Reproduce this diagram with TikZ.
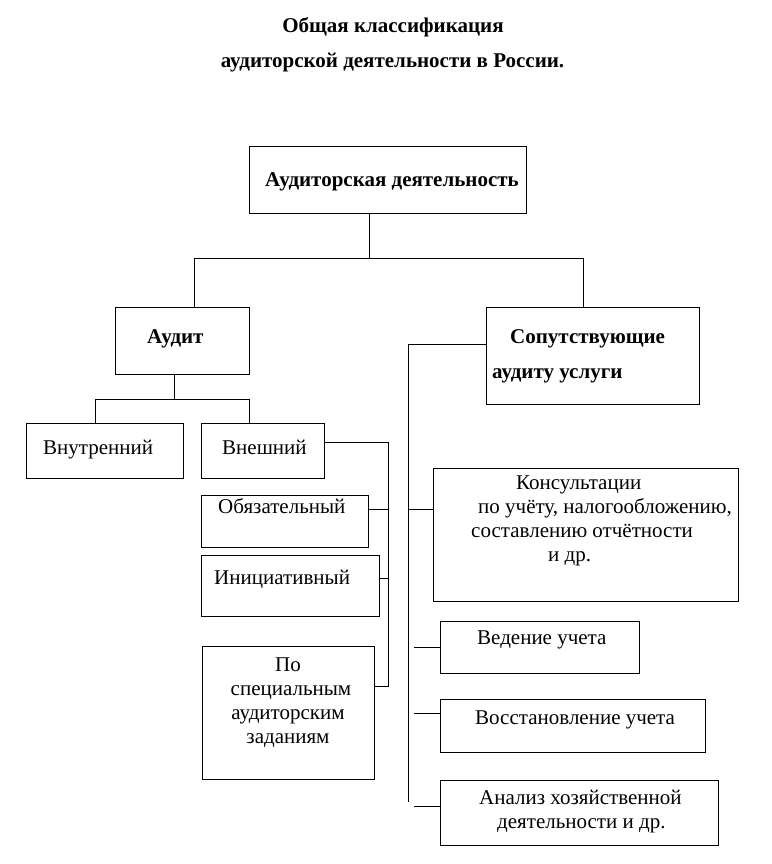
\documentclass[tikz,border=0pt]{standalone}
\usepackage{fontspec}
\setmainfont{Liberation Serif}
\tikzset{
  box/.style={draw, line width=1pt, inner sep=0pt, outer sep=0pt, rectangle},
  ln/.style={line width=1pt},
  txt/.style={anchor=base west, inner sep=0pt, font=\fontsize{21}{24}\selectfont},
  btxt/.style={anchor=base west, inner sep=0pt, font=\fontsize{21}{24}\selectfont\bfseries},
  ttl/.style={anchor=base, inner sep=0pt, font=\fontsize{21}{24}\selectfont\bfseries}
}
\begin{document}
\begin{tikzpicture}[x=1pt,y=-1pt]
\useasboundingbox (0,0) rectangle (771,864);
% title
\node[ttl] (t1) at (393,33) {Общая классификация};
\node[ttl] (t2) at (392.5,68) {аудиторской деятельности в России.};
% boxes
\node[box, minimum width=277, minimum height=67] (top) at (387.5,179.5) {};
\node[box, minimum width=134, minimum height=67] (audit) at (182,340.5) {};
\node[box, minimum width=213, minimum height=97] (sop) at (592.5,355.5) {};
\node[box, minimum width=157, minimum height=55] (vnutr) at (104.5,450.5) {};
\node[box, minimum width=123, minimum height=55] (vnesh) at (262.5,450.5) {};
\node[box, minimum width=167, minimum height=52] (obyaz) at (284.5,521) {};
\node[box, minimum width=178, minimum height=61] (init) at (290,585.5) {};
\node[box, minimum width=172, minimum height=133] (spec) at (288,712.5) {};
\node[box, minimum width=305, minimum height=133] (kons) at (585.5,534.5) {};
\node[box, minimum width=199, minimum height=52] (ved) at (539.5,647) {};
\node[box, minimum width=265, minimum height=53] (vosst) at (572.5,725.5) {};
\node[box, minimum width=278, minimum height=65] (anal) at (579,812.5) {};
% texts
\node[btxt] (ttop) at (265,186) {Аудиторская деятельность};
\node[btxt] (taudit) at (147,343) {Аудит};
\node[btxt] (tsop1) at (510,343) {Сопутствующие};
\node[btxt] (tsop2) at (492,378) {аудиту услуги};
\node[txt] (tvnutr) at (43,454) {Внутренний};
\node[txt] (tvnesh) at (222,454) {Внешний};
\node[txt] (tobyaz) at (218,513) {Обязательный};
\node[txt] (tinit) at (214,584) {Инициативный};
\node[txt, anchor=base] (tspec1) at (288,671) {По};
\node[txt, anchor=base] (tspec2) at (291,695) {специальным};
\node[txt, anchor=base] (tspec3) at (288,719) {аудиторским};
\node[txt, anchor=base] (tspec4) at (288,743) {заданиям};
\node[txt] (tkons1) at (516,489) {Консультации};
\node[txt] (tkons2) at (478,513) {по учёту, налогообложению,};
\node[txt] (tkons3) at (471,537) {составлению отчётности};
\node[txt] (tkons4) at (548,561) {и др.};
\node[txt] (tved) at (477,644) {Ведение учета};
\node[txt] (tvosst) at (475,724) {Восстановление учета};
\node[txt] (tanal1) at (479,804) {Анализ хозяйственной};
\node[txt] (tanal2) at (497,828) {деятельности и др.};
% junction coordinates
\coordinate (j1) at (369,258);
\coordinate (jl) at (194,258);
\coordinate (jr) at (583,258);
\coordinate (j2) at (174,399);
\coordinate (j2l) at (95,399);
\coordinate (j2r) at (249,399);
\coordinate (b1) at (388.5,442);
\coordinate (b2) at (388.5,686);
\coordinate (bob) at (388.5,509);
\coordinate (bin) at (388.5,578);
\coordinate (r1) at (408,344);
\coordinate (r2) at (408,802);
\coordinate (rk) at (408,509);
\coordinate (s1) at (414,647);
\coordinate (s2) at (414,713);
\coordinate (s3) at (414,806);
% connectors
\draw[ln] (j1 |- top.south) -- (j1);
\draw[ln] (jl |- audit.north) -- (jl) -- (jr) -- (jr |- sop.north);
\draw[ln] (j2 |- audit.south) -- (j2);
\draw[ln] (j2l |- vnutr.north) -- (j2l) -- (j2r) -- (j2r |- vnesh.north);
\draw[ln] (b1 -| vnesh.east) -- (b1) -- (b2) -- (b2 -| spec.east);
\draw[ln] (bob -| obyaz.east) -- (bob);
\draw[ln] (bin -| init.east) -- (bin);
\draw[ln] (r1 -| sop.west) -- (r1) -- (r2);
\draw[ln] (rk) -- (rk -| kons.west);
\draw[ln] (s1) -- (s1 -| ved.west);
\draw[ln] (s2) -- (s2 -| vosst.west);
\draw[ln] (s3) -- (s3 -| anal.west);
\end{tikzpicture}
\end{document}
